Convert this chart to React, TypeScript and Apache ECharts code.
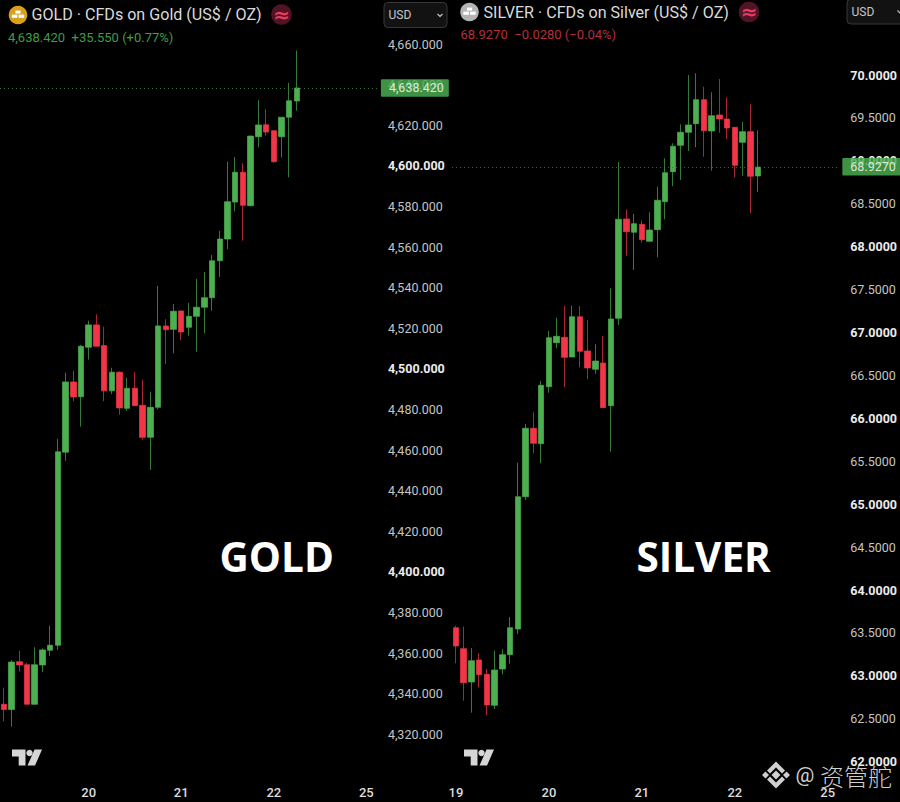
import React, { useEffect, useRef } from "react";
import * as echarts from "echarts";

// [open, close, low, high]
const goldCandles: number[][] = [
  [4334.8, 4332.2, 4326.4, 4343.0], [4332.2, 4355.6, 4323.8, 4356.6], [4355.8, 4354.2, 4350.9, 4361.2],
  [4354.3, 4334.8, 4334.8, 4355.2], [4334.8, 4354.3, 4334.8, 4362.9], [4354.2, 4361.6, 4350.6, 4362.4],
  [4361.4, 4363.9, 4358.7, 4373.5], [4363.9, 4459.2, 4361.6, 4465.6], [4459.0, 4493.6, 4454.8, 4498.2],
  [4493.6, 4486.2, 4484.1, 4499.1], [4486.3, 4511.2, 4471.6, 4511.8], [4510.7, 4521.7, 4504.6, 4523.8],
  [4521.7, 4511.2, 4511.2, 4526.9], [4511.5, 4489.2, 4484.1, 4520.8], [4489.2, 4498.4, 4487.7, 4500.6],
  [4498.4, 4480.8, 4477.5, 4498.8], [4480.6, 4490.5, 4479.4, 4495.7], [4490.5, 4481.9, 4481.9, 4498.4],
  [4482.1, 4466.3, 4465.2, 4494.7], [4466.3, 4481.1, 4450.2, 4488.8], [4481.1, 4521.2, 4480.1, 4540.9],
  [4521.2, 4519.3, 4502.4, 4524.5], [4519.5, 4528.4, 4507.7, 4532.0], [4528.6, 4518.2, 4514.3, 4528.6],
  [4520.5, 4525.9, 4516.4, 4532.6], [4525.9, 4530.4, 4508.5, 4544.3], [4530.4, 4535.1, 4517.6, 4547.8],
  [4535.1, 4553.3, 4528.7, 4556.1], [4553.3, 4564.0, 4545.4, 4568.0], [4564.0, 4582.4, 4558.9, 4602.1],
  [4582.2, 4596.9, 4577.6, 4604.4], [4596.9, 4580.6, 4563.2, 4601.3], [4580.4, 4614.7, 4580.4, 4615.0],
  [4614.4, 4620.2, 4609.2, 4632.4], [4620.3, 4616.7, 4614.9, 4627.9], [4617.4, 4602.1, 4601.6, 4617.4],
  [4614.4, 4624.0, 4604.3, 4624.0], [4624.0, 4632.1, 4594.4, 4640.9], [4632.0, 4638.42, 4627.2, 4656.8],
];

const silverCandles: number[][] = [
  [63.561, 63.348, 63.147, 63.585], [63.317, 62.921, 62.711, 63.573], [62.929, 63.177, 62.571, 63.325],
  [63.185, 63.014, 62.862, 63.263], [63.018, 62.661, 62.541, 63.08], [62.657, 63.068, 62.614, 63.293],
  [63.08, 63.247, 63.018, 63.31], [63.247, 63.561, 63.142, 63.686], [63.546, 65.087, 63.488, 65.484],
  [65.087, 65.884, 65.049, 65.934], [65.884, 65.71, 65.593, 66.071], [65.705, 66.385, 65.477, 66.435],
  [66.369, 66.94, 66.299, 67.018], [66.882, 66.956, 66.816, 67.173], [66.944, 66.711, 66.362, 67.309],
  [66.715, 67.184, 66.715, 67.313], [67.184, 66.781, 66.595, 67.309], [66.785, 66.587, 66.455, 67.146],
  [66.572, 66.668, 66.517, 66.863], [66.645, 66.124, 66.124, 66.96], [66.148, 67.158, 65.612, 67.515],
  [67.166, 68.319, 67.088, 68.987], [68.323, 68.175, 67.895, 68.436], [68.168, 68.268, 67.728, 68.381],
  [68.261, 68.081, 68.047, 68.303], [68.063, 68.194, 68.063, 68.401], [68.198, 68.541, 67.877, 68.699],
  [68.524, 68.862, 68.319, 69.03], [68.874, 69.17, 68.707, 69.205], [69.181, 69.333, 68.777, 69.426],
  [69.333, 69.418, 69.115, 70.0], [69.433, 69.713, 69.158, 70.02], [69.713, 69.351, 69.048, 69.864],
  [69.348, 69.526, 68.885, 69.799], [69.534, 69.488, 69.328, 69.954], [69.488, 69.383, 69.255, 69.74],
  [69.391, 68.948, 68.804, 69.391], [69.216, 69.34, 68.827, 69.456], [69.34, 68.82, 68.389, 69.659],
  [68.824, 68.927, 68.637, 69.356],
];

const goldDayTicks: [number, string][] = [[11, "20"], [23, "21"], [35, "22"], [47, "25"]];
const silverDayTicks: [number, string][] = [[0, "19"], [12, "20"], [24, "21"], [36, "22"], [48, "25"]];
const goldPrice = 4638.42;
const silverPrice = 68.927;
const goldBoldTicks = [4400, 4500, 4600];

const GREEN = "#4caf50";
const RED = "#f23648";
const FONT = "Roboto, sans-serif";

const makeCategories = (count: number, ticks: [number, string][]) => {
  const out: string[] = [];
  for (let i = 0; i < count; i++) {
    const hit = ticks.find((t) => t[0] === i);
    out.push(hit ? hit[1] : "");
  }
  return out;
};

const fmtGold = (v: number) =>
  v.toLocaleString("en-US", { minimumFractionDigits: 3, maximumFractionDigits: 3 });

const candleSeries = (idx: number, data: number[][], price: number, label: string) => ({
  type: "candlestick",
  xAxisIndex: idx,
  yAxisIndex: idx,
  barWidth: 6,
  z: 3,
  data,
  itemStyle: { color: GREEN, color0: RED, borderColor: GREEN, borderColor0: RED, borderWidth: 0.7 },
  markLine: {
    silent: true,
    symbol: "none",
    animation: false,
    lineStyle: { color: "#3a7d43", type: [1, 3], width: 1, opacity: 0.9 },
    label: {
      position: "end",
      distance: 3,
      formatter: label,
      backgroundColor: "rgba(76,175,80,0.93)",
      color: "#eef6ee",
      fontFamily: FONT,
      fontSize: 12.5,
      padding: [2.5, 5, 2, 8],
      borderRadius: 1,
    },
    data: [{ yAxis: price }],
  },
});

const tvLogo = (x: number, y: number) => ({
  type: "group",
  x,
  y,
  silent: true,
  children: [
    { type: "polygon", shape: { points: [[0, 0], [13.5, 0], [13.5, 16], [6.7, 16], [6.7, 7], [0, 7]] }, style: { fill: "#d6d6d6" } },
    { type: "circle", shape: { cx: 17.5, cy: 3.4, r: 3.2 }, style: { fill: "#d6d6d6" } },
    { type: "polygon", shape: { points: [[22.5, 0], [30, 0], [23, 16], [15.5, 16]] }, style: { fill: "#d6d6d6" } },
  ],
});

const metalIcon = (cx: number, cy: number, fill: string) => ({
  type: "group",
  x: cx,
  y: cy,
  silent: true,
  children: [
    { type: "circle", shape: { cx: 0, cy: 0, r: 9.3 }, style: { fill } },
    { type: "rect", shape: { x: -2.6, y: -4.4, width: 5.2, height: 3 }, style: { fill: "#fff" } },
    { type: "rect", shape: { x: -6.2, y: -0.4, width: 5.6, height: 3.2 }, style: { fill: "#fff" } },
    { type: "rect", shape: { x: 0.6, y: -0.4, width: 5.6, height: 3.2 }, style: { fill: "#fff" } },
  ],
});

const approxIcon = (cx: number, cy: number) => ({
  type: "group",
  x: cx,
  y: cy,
  silent: true,
  children: [
    { type: "circle", shape: { cx: 0, cy: 0, r: 10.3 }, style: { fill: "#521424" } },
    { type: "text", x: 0, y: 0, style: { text: "≈", fill: "#e63c62", fontFamily: "DejaVu Sans", fontWeight: "bold", fontSize: 20, align: "center", verticalAlign: "middle" } },
  ],
});

const txt = (text: string, x: number, y: number, fontSize: number, fill: string, extra: any = {}) => ({
  type: "text",
  x,
  y,
  silent: true,
  z: 20,
  style: { text, fill, fontFamily: FONT, fontSize, verticalAlign: "middle", ...extra },
});

const usdButton = (x: number, y: number, w: number) => ({
  type: "group",
  x,
  y,
  silent: true,
  children: [
    { type: "rect", shape: { x: 0, y: 0, width: w, height: 25, r: 4 }, style: { fill: "#121212", stroke: "#383838", lineWidth: 1 } },
    { type: "text", x: 4.5, y: 12.5, style: { text: "USD", fill: "#c6c6c6", fontFamily: FONT, fontSize: 12, verticalAlign: "middle" } },
    { type: "polyline", shape: { points: [[w - 9.5, 11.5], [w - 7, 14], [w - 4.5, 11.5]] }, style: { stroke: "#c6c6c6", lineWidth: 1.2, fill: "none" } },
  ],
});

const binance = () => {
  const cx = 776;
  const cy = 775;
  const p = (pts: number[][]) => ({
    type: "polygon",
    silent: true,
    shape: { points: pts.map((q) => [cx + q[0], cy + q[1]]) },
    style: { fill: "#cfcfcf" },
  });
  return [
    p([[0, -4.5], [4.5, 0], [0, 4.5], [-4.5, 0]]),
    p([[-10.5, -3.5], [-7, 0], [-10.5, 3.5], [-14, 0]]),
    p([[10.5, -3.5], [14, 0], [10.5, 3.5], [7, 0]]),
    p([[0, -13.5], [9, -4.5], [6, -1.5], [0, -7.5], [-6, -1.5], [-9, -4.5]]),
    p([[0, 13.5], [9, 4.5], [6, 1.5], [0, 7.5], [-6, 1.5], [-9, 4.5]]),
  ];
};

export default function App() {
  const ref = useRef<HTMLDivElement>(null);
  useEffect(() => {
    if (!ref.current) return;
    const chart = echarts.init(ref.current, undefined, { renderer: "svg", width: 900, height: 802 });
    const goldCats = makeCategories(49, goldDayTicks);
    const silverCats = makeCategories(50, silverDayTicks);
    const dayAxis = (idx: number, cats: string[], margin: number) => ({
      type: "category",
      gridIndex: idx,
      data: cats,
      axisLine: { show: false },
      axisTick: { show: false },
      splitLine: { show: false },
      axisLabel: {
        interval: (i: number, v: string) => v !== "",
        margin,
        color: "#dcdcdc",
        fontFamily: FONT,
        fontSize: 13,
        fontWeight: 500,
      },
    });
    const priceRich = {
      n: { color: "#c4c4c4", fontFamily: FONT, fontSize: 12.5 },
      b: { color: "#ececec", fontFamily: FONT, fontSize: 12.5, fontWeight: "bold" },
    };
    chart.setOption({
      animation: false,
      backgroundColor: "#000000",
      grid: [
        { left: -1.875, top: 3.55, width: 379.75, height: 771.4 },
        { left: 452.1, top: 32.1, width: 388.5, height: 729.6 },
      ],
      xAxis: [dayAxis(0, goldCats, 11), dayAxis(1, silverCats, 24)],
      yAxis: [
        {
          type: "value",
          gridIndex: 0,
          position: "right",
          min: 4300,
          max: 4680,
          interval: 20,
          splitLine: { show: false },
          axisLine: { show: false },
          axisTick: { show: false },
          axisLabel: {
            margin: 10,
            rich: priceRich,
            formatter: (v: number) =>
              v === 4300 || v === 4680 ? "" : goldBoldTicks.includes(v) ? `{b|${fmtGold(v)}}` : `{n|${fmtGold(v)}}`,
          },
        },
        {
          type: "value",
          gridIndex: 1,
          position: "right",
          min: 62,
          max: 70.5,
          interval: 0.5,
          splitLine: { show: false },
          axisLine: { show: false },
          axisTick: { show: false },
          axisLabel: {
            margin: 11,
            rich: priceRich,
            formatter: (v: number) =>
              v === 70.5 ? "" : Number.isInteger(v) ? `{b|${v.toFixed(4)}}` : `{n|${v.toFixed(4)}}`,
          },
        },
      ],
      series: [
        candleSeries(0, goldCandles, goldPrice, fmtGold(goldPrice)),
        candleSeries(1, silverCandles, silverPrice, silverPrice.toFixed(4)),
      ],
      graphic: [
        metalIcon(18, 15, "#d8a01e"),
        txt("GOLD · CFDs on Gold (US$ / OZ)", 31.5, 14.5, 16.1, "#dadada"),
        approxIcon(281.5, 14.5),
        txt("4,638.420  +35.550 (+0.77%)", 8, 37, 13, "#3f9c49"),
        usdButton(384, 2.5, 63),
        metalIcon(469.5, 12, "#b4b4b4"),
        txt("SILVER · CFDs on Silver (US$ / OZ)", 483.5, 12, 16.1, "#dadada"),
        approxIcon(749, 12),
        txt("68.9270  −0.0280 (−0.04%)", 460.5, 34.5, 13, "#b3303c"),
        usdButton(847, -1, 60),
        tvLogo(12, 749.5),
        tvLogo(464, 749.5),
        txt("GOLD", 219.5, 556, 40.5, "#ffffff", { fontFamily: "'Open Sans'", fontWeight: "bold" }),
        txt("SILVER", 636.5, 556, 40.5, "#ffffff", { fontFamily: "'Open Sans'", fontWeight: "bold" }),
        ...binance(),
        txt("@", 795.5, 775, 21, "#cfcfcf"),
        txt("资管舵", 820, 775, 24, "#cfcfcf", { fontFamily: "'Noto Sans CJK SC'", fontWeight: 300 }),
      ],
    });
    return () => chart.dispose();
  }, []);
  return (
    <div
      ref={ref}
      style={{ position: "fixed", left: 0, top: 0, width: 900, height: 802, background: "#000" }}
    />
  );
}
